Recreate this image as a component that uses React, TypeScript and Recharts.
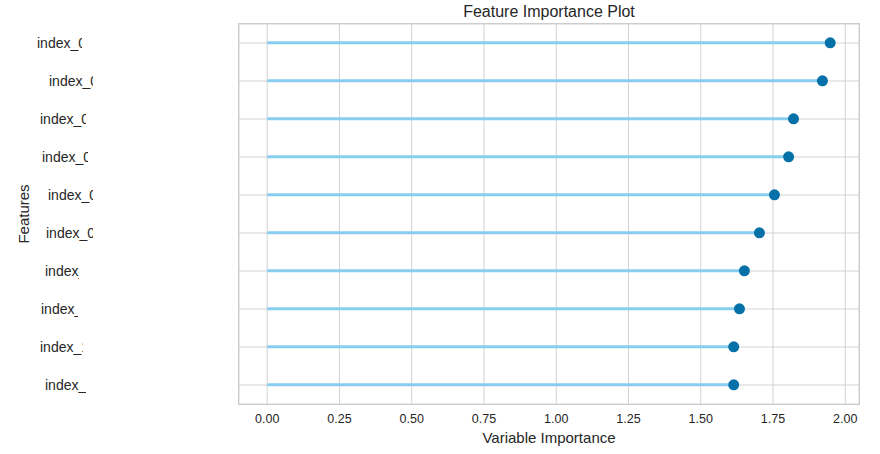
import { Bar, CartesianGrid, ComposedChart, Label, XAxis, YAxis } from "recharts";

// feature names (top to bottom) - the original labels are clipped on the left side
const features = [
  "index_0", "index_0", "index_0", "index_0", "index_0",
  "index_0", "index_1", "index_1", "index_1", "index_1",
];
const importance = [1.948, 1.921, 1.821, 1.804, 1.755, 1.703, 1.651, 1.634, 1.614, 1.614];
const xTicks = [0, 0.25, 0.5, 0.75, 1.0, 1.25, 1.5, 1.75, 2.0];

// where each clipped label starts / is cut off
const labelStart = [37, 49, 40, 42, 48, 46, 45, 41, 40, 45];
const labelCut = [82, 93, 86, 88, 93, 93, 79, 78, 83, 86];

const data = features.map((name, i) => ({ key: `${name}-${i}`, name, value: importance[i] }));

const W = 880;
const H = 454;
const PLOT = { left: 239, top: 24, right: 859, bottom: 404 };
const FONT = '"Liberation Sans", Arial, sans-serif';

const Lollipop = (props: any) => {
  const { x, y, width, height } = props;
  const cy = y + height / 2;
  return (
    <g>
      <line x1={x} y1={cy} x2={x + width} y2={cy} stroke="#89cdee" strokeWidth={3} />
      <circle cx={x + width} cy={cy} r={5.5} fill="#0670a8" />
    </g>
  );
};

const FeatureTick = (props: any) => {
  const { y, index, payload } = props;
  const i = index ?? 0;
  const id = `clip-tick-${i}`;
  const label = data.find((d) => d.key === payload.value)?.name ?? "";
  return (
    <g>
      <clipPath id={id}>
        <rect x={0} y={y - 14} width={labelCut[i]} height={28} />
      </clipPath>
      <text
        x={labelStart[i]}
        y={y}
        dy={5}
        fontSize={14}
        fill="#262626"
        fontFamily={FONT}
        clipPath={`url(#${id})`}
      >
        {label}
      </text>
    </g>
  );
};

export default function App() {
  return (
    <div style={{ position: "absolute", left: 0, top: 0, width: W, height: H, background: "#fff", fontFamily: FONT }}>
      <div
        style={{
          position: "absolute",
          left: PLOT.left,
          width: PLOT.right - PLOT.left,
          top: 3,
          textAlign: "center",
          fontSize: 16,
          color: "#262626",
        }}
      >
        Feature Importance Plot
      </div>
      <ComposedChart
        width={W}
        height={H}
        data={data}
        layout="vertical"
        margin={{ top: PLOT.top, right: W - PLOT.right, bottom: 0, left: 0 }}
      >
        <CartesianGrid stroke="#d2d2d2" strokeWidth={1} />
        <XAxis
          type="number"
          domain={[-0.0975, 2.0475]}
          ticks={xTicks}
          tickFormatter={(v: number) => v.toFixed(2)}
          axisLine={false}
          tickLine={false}
          tickMargin={4}
          tick={{ fill: "#262626", fontSize: 12.5, fontFamily: FONT }}
          height={H - PLOT.bottom}
          allowDataOverflow
        >
          <Label
            value="Variable Importance"
            position="insideBottom"
            offset={11}
            fill="#262626"
            fontSize={15}
            fontFamily={FONT}
          />
        </XAxis>
        <YAxis
          type="category"
          dataKey="key"
          width={PLOT.left}
          axisLine={false}
          tickLine={false}
          tick={<FeatureTick />}
          interval={0}
        >
          <Label
            content={(p: any) => {
              const vb = p.viewBox || {};
              const cy = (vb.y ?? PLOT.top) + (vb.height ?? PLOT.bottom - PLOT.top) / 2;
              return (
                <text
                  x={23}
                  y={cy}
                  transform={`rotate(-90, 23, ${cy})`}
                  textAnchor="middle"
                  dominantBaseline="central"
                  fontSize={15}
                  fill="#262626"
                  fontFamily={FONT}
                >
                  Features
                </text>
              );
            }}
          />
        </YAxis>
        <Bar dataKey="value" shape={<Lollipop />} isAnimationActive={false} />
      </ComposedChart>
      <div
        style={{
          position: "absolute",
          left: PLOT.left - 1,
          top: PLOT.top - 1,
          width: PLOT.right - PLOT.left,
          height: PLOT.bottom - PLOT.top,
          border: "1.5px solid #cccccc",
          pointerEvents: "none",
        }}
      />
    </div>
  );
}
